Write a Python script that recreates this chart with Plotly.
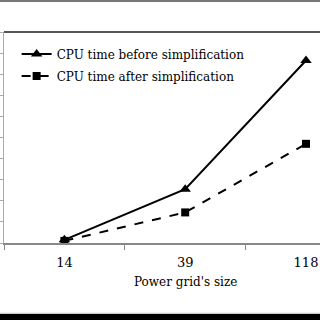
import plotly.graph_objects as go

categories = ["14", "39", "118"]
cpu_before = [0.15, 2.55, 8.65]
cpu_after = [0.1, 1.45, 4.7]
y_ticks = list(range(0, 11))
x_title = "Power grid's size"

FONT = "DejaVu Serif"
FS = 12

fig = go.Figure()
fig.add_trace(go.Scatter(
    x=categories, y=cpu_before, mode="lines+markers",
    name="CPU time before simplification", legendgroup="a",
    line=dict(color="black", width=2),
    marker=dict(symbol="triangle-up", size=10, color="black"),
    cliponaxis=False,
))
fig.add_trace(go.Scatter(
    x=categories, y=cpu_after, mode="lines+markers",
    name="CPU time after simplification", legendgroup="b",
    line=dict(color="black", width=2, dash="dash"),
    marker=dict(symbol="square", size=8, color="black"),
    cliponaxis=False,
))

fig.update_layout(
    width=320, height=320,
    margin=dict(l=4, r=0, t=32, b=77),
    paper_bgcolor="white", plot_bgcolor="white",
    font=dict(family=FONT, size=FS, color="black"),
    showlegend=True,
    legend=dict(x=0.04, y=0.965, xanchor="left", yanchor="top",
                traceorder="grouped", tracegroupgap=3,
                bgcolor="rgba(0,0,0,0)", font=dict(family=FONT, size=FS)),
    xaxis=dict(
        type="category", range=[-0.5, 2.116],
        tickson="boundaries", ticks="outside", ticklen=5,
        tickcolor="#888", showline=True, linecolor="#888", linewidth=1.5,
        showgrid=False, zeroline=False,
        tickfont=dict(family=FONT, size=13),
        ticklabelstandoff=7,
    ),
    yaxis=dict(
        range=[0, 10], tickvals=y_ticks, showticklabels=False,
        ticks="outside", ticklen=4, tickcolor="#aaa",
        showline=True, linecolor="#aaa", linewidth=1,
        showgrid=False, zeroline=False,
    ),
    annotations=[
        dict(text=x_title, xref="x", yref="paper", x=1, y=-0.185,
             xanchor="center", yanchor="middle", showarrow=False,
             font=dict(family=FONT, size=FS)),
    ],
    shapes=[
        dict(type="line", xref="paper", yref="paper", x0=0, x1=1, y0=1, y1=1,
             line=dict(color="#555", width=2)),
        dict(type="rect", xref="paper", yref="paper", x0=-0.02, x1=1.01,
             y0=1.142, y1=1.16, line=dict(width=0), fillcolor="#777"),
        dict(type="rect", xref="paper", yref="paper", x0=-0.02, x1=1.01,
             y0=-0.37, y1=-0.3365, line=dict(width=0), fillcolor="black"),
        dict(type="rect", xref="paper", yref="paper", x0=-0.02, x1=1.01,
             y0=-0.3365, y1=-0.33, line=dict(width=0), fillcolor="#ccc"),
    ],
)

fig.write_html("out.html")
